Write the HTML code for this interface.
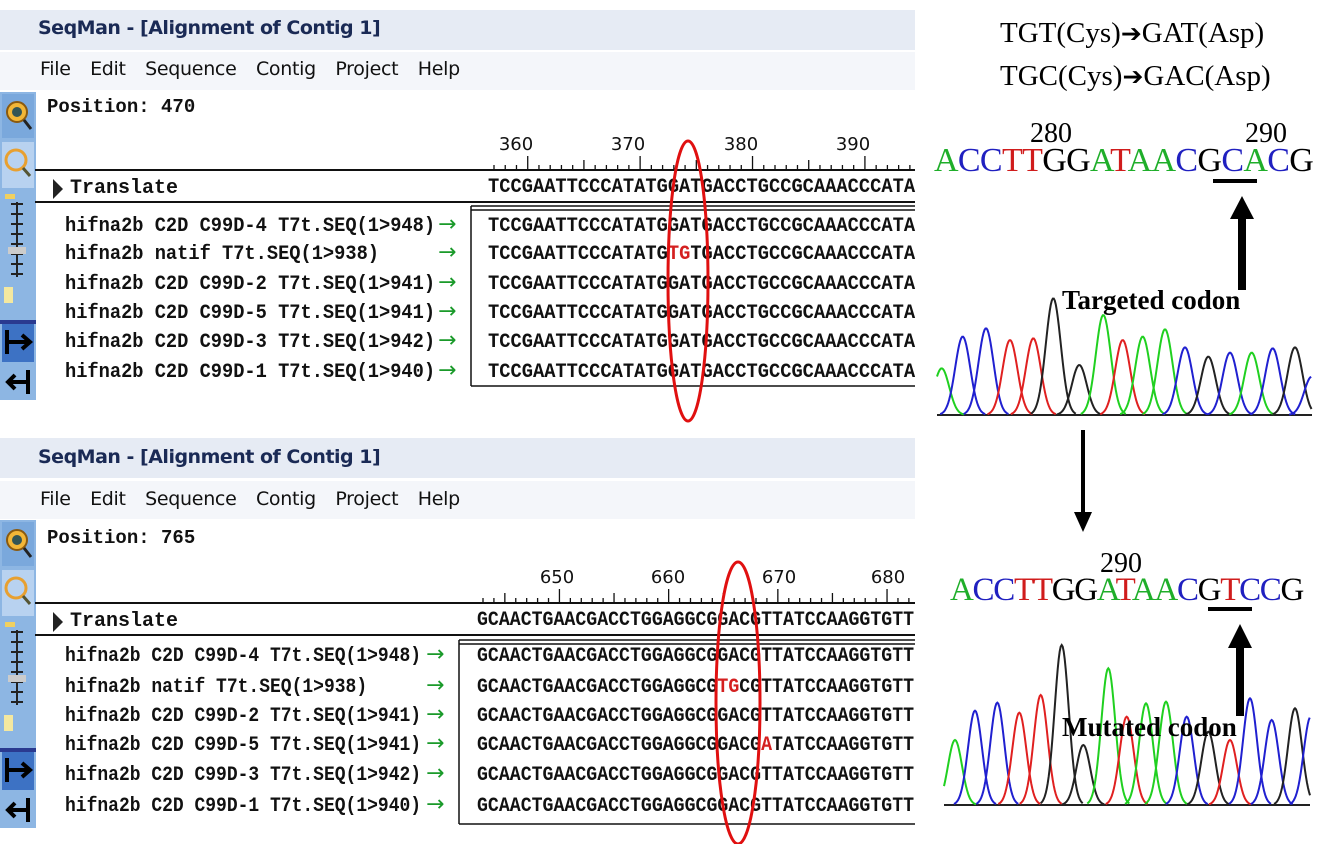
<!DOCTYPE html>
<html><head><meta charset="utf-8">
<style>
body{margin:0;width:1332px;height:844px;background:#fff;position:relative;overflow:hidden;font-family:"Liberation Sans",sans-serif}
.a{position:absolute;white-space:pre}
.title{font-family:"DejaVu Sans",sans-serif;font-weight:bold;font-size:19px;color:#1a2a55;letter-spacing:-0.5px}
.menu{font-family:"DejaVu Sans",sans-serif;font-size:19px;color:#111;word-spacing:4px;letter-spacing:-0.3px}
.mono{font-family:"Liberation Mono",monospace;font-weight:bold;color:#111}
.seq{font-family:"Liberation Mono",monospace;font-weight:bold;font-size:20px;color:#111;transform-origin:0 0}
.r{color:#d42020}
.tm{font-family:"Liberation Serif",serif;color:#000}
</style></head><body>
<svg id="s" class="a" style="left:0;top:0" width="1332" height="844"></svg>

<div class="a" style="left:0;top:10px;width:915px;height:40px;background:#e6ebf4"></div>
<div class="a" style="left:0;top:52px;width:915px;height:38px;background:#f4f6fa"></div>
<div class="a title" style="left:38px;top:17px">SeqMan - [Alignment of Contig 1]</div>
<div class="a menu" style="left:40px;top:58px">File  Edit  Sequence  Contig  Project  Help</div>
<div class="a mono" style="left:47px;top:96px;font-size:19px">Position: 470</div>
<div class="a mono" style="left:70px;top:177px;font-size:20px">Translate</div>

<div class="a" style="left:0;top:438px;width:915px;height:40px;background:#e6ebf4"></div>
<div class="a" style="left:0;top:481px;width:915px;height:38px;background:#f4f6fa"></div>
<div class="a title" style="left:38px;top:446px">SeqMan - [Alignment of Contig 1]</div>
<div class="a menu" style="left:40px;top:488px">File  Edit  Sequence  Contig  Project  Help</div>
<div class="a mono" style="left:47px;top:527px;font-size:19px">Position: 765</div>
<div class="a mono" style="left:70px;top:610px;font-size:20px">Translate</div>

<div id="txt"></div>

<div class="a tm" style="left:1000px;top:17px;font-size:29px">TGT(Cys)<span style="font-family:'DejaVu Sans';font-weight:bold;font-size:25px">➔</span>GAT(Asp)</div>
<div class="a tm" style="left:1000px;top:60px;font-size:29px">TGC(Cys)<span style="font-family:'DejaVu Sans';font-weight:bold;font-size:25px">➔</span>GAC(Asp)</div>
<div class="a tm" style="left:1030px;top:118px;font-size:28px">280</div>
<div class="a tm" style="left:1245px;top:118px;font-size:28px">290</div>
<div class="a tm" style="left:934px;top:142px;font-size:34px;letter-spacing:-0.65px"><span style="color:#1fae2a">A</span><span style="color:#2020c0">CC</span><span style="color:#d01c1c">TT</span>GG<span style="color:#1fae2a">A</span><span style="color:#d01c1c">T</span><span style="color:#1fae2a">AA</span><span style="color:#2020c0">C</span>G<span style="color:#2020c0">C</span><span style="color:#1fae2a">A</span><span style="color:#2020c0">C</span>G</div>
<div class="a tm" style="left:1062px;top:285px;font-size:27px;font-weight:bold">Targeted codon</div>
<div class="a tm" style="left:1100px;top:548px;font-size:28px">290</div>
<div class="a tm" style="left:950px;top:572px;font-size:33px;letter-spacing:-1.3px"><span style="color:#1fae2a">A</span><span style="color:#2020c0">CC</span><span style="color:#d01c1c">TT</span>GG<span style="color:#1fae2a">A</span><span style="color:#d01c1c">T</span><span style="color:#1fae2a">AA</span><span style="color:#2020c0">C</span>G<span style="color:#d01c1c">T</span><span style="color:#2020c0">CC</span>G</div>
<div class="a tm" style="left:1062px;top:712px;font-size:27px;font-weight:bold">Mutated codon</div>

<script>
const S=document.getElementById('s');let h='';
function R(x,y,w,hh,c){h+=`<rect x="${x}" y="${y}" width="${w}" height="${hh}" fill="${c}"/>`}
function L(x1,y1,x2,y2,c,w){h+=`<line x1="${x1}" y1="${y1}" x2="${x2}" y2="${y2}" stroke="${c}" stroke-width="${w}"/>`}
function T(x,y,t,fs,extra){h+=`<text x="${x}" y="${y}" font-family="DejaVu Sans,sans-serif" font-size="${fs}" fill="#111" ${extra||''}>${t}</text>`}
function side(y0){
 R(0,y0,36,308,'#8db6e3');
 R(2,y0+2,32,44,'#7aa8dc');R(2,y0+50,32,46,'#b8d2f0');
 h+=`<circle cx="17" cy="${y0+20}" r="10" fill="#f2b637" stroke="#8a5a10" stroke-width="2"/><circle cx="17" cy="${y0+20}" r="5" fill="#355"/>`;
 L(24,y0+28,31,y0+37,'#222',3);
 h+=`<circle cx="16" cy="${y0+68}" r="10" fill="none" stroke="#e8a030" stroke-width="3"/>`;L(23,y0+76,30,y0+84,'#553',3);
 R(2,y0+100,32,130,'#8db6e3');R(5,y0+102,10,5,'#f0d060');
 L(17,y0+110,17,y0+185,'#222',2);for(let k=0;k<8;k++)L(11,y0+112+k*10,23,y0+112+k*10,'#222',2);
 R(8,y0+155,18,7,'#ccc');R(4,y0+195,9,16,'#f4e8a0');
 R(0,y0+228,36,4,'#2a3a90');R(2,y0+232,32,38,'#3d72c4');
 L(7,y0+238,7,y0+262,'#000',4);L(7,y0+250,28,y0+250,'#000',4);h+=`<path d="M22 ${y0+243}L30 ${y0+250}L22 ${y0+257}" fill="none" stroke="#000" stroke-width="4"/>`;
 R(2,y0+274,32,32,'#8db6e3');
 L(28,y0+278,28,y0+302,'#000',4);L(8,y0+290,28,y0+290,'#000',4);h+=`<path d="M15 ${y0+283}L8 ${y0+290}L15 ${y0+297}" fill="none" stroke="#000" stroke-width="4"/>`;
}
side(92);side(520);
function ico(y){R(6,y,18,4,'#333');L(9,y+4,9,y+16,'#c03030',2);L(20,y+4,20,y+16,'#c03030',2);L(4,y+16,26,y+16,'#2040d0',3);}
ico(18);ico(58);ico(447);ico(487);
function ruler(y,x0,step,n,first,labels){
 L(35,y,915,y,'#111',2);
 for(let i=0;i<n;i++){const x=x0+i*step;const big=(first+i)%10==0,mid=(first+i)%5==0;L(x,y,x,y-(big?14:mid?10:5),'#111',1.3);}
 labels.forEach(l=>T(l[1],y-20,l[0],18,'text-anchor="middle"'));
}
ruler(170,494,11.24,38,357,[[360,516],[370,628],[380,741],[390,853]]);
ruler(603,483,10.92,40,643,[[650,557],[660,668],[670,779],[680,888]]);
L(35,202,915,202,'#111',2);L(35,635,915,635,'#111',2);
h+=`<path d="M53 179L63 189L53 199Z" fill="#222"/><path d="M53 612L63 622L53 632Z" fill="#222"/>`;
function box(x,y1,y2){L(x,y1,915,y1,'#111',1.5);L(x,y1+4,915,y1+4,'#111',1.5);L(x,y1,x,y2,'#111',1.5);L(x,y2,915,y2,'#111',1.5);}
box(471,206,386);box(459,640,824);
S.innerHTML=h;
let t='';
const names=['hifna2b C2D C99D-4 T7t.SEQ(1>948)','hifna2b natif T7t.SEQ(1>938)','hifna2b C2D C99D-2 T7t.SEQ(1>941)','hifna2b C2D C99D-5 T7t.SEQ(1>941)','hifna2b C2D C99D-3 T7t.SEQ(1>942)','hifna2b C2D C99D-1 T7t.SEQ(1>940)'];
function seqdiv(x,y,s,w,red){let o='';for(let i=0;i<s.length;i++){const c=s[i];o+=red.includes(i)?`<span class="r">${c}</span>`:c;}
 t+=`<div class="a seq" style="left:${x}px;top:${y}px;transform:scaleX(${w/(s.length*12)})">${o}</div>`;}
const topY=[215,243,273,302,331,361],botY=[645,676,705,734,764,795];
const s1='TCCGAATTCCCATATGGATGACCTGCCGCAAACCCATA',s1n='TCCGAATTCCCATATGTGTGACCTGCCGCAAACCCATA';
const s2='GCAACTGAACGACCTGGAGGCGGACGTTATCCAAGGTGTT',s2n='GCAACTGAACGACCTGGAGGCGTGCGTTATCCAAGGTGTT',s25='GCAACTGAACGACCTGGAGGCGGACGATATCCAAGGTGTT';
seqdiv(488,176,s1,427,[]);seqdiv(477,609,s2,437,[]);
for(let i=0;i<6;i++){
 const nm=names[i];
 t+=`<div class="a seq" style="left:65px;top:${topY[i]}px;transform:scaleX(${370/(33*12)})">${nm}</div>`;
 t+=`<div class="a seq" style="left:65px;top:${botY[i]}px;transform:scaleX(${356/(33*12)})">${nm}</div>`;
 t+=`<div class="a" style="left:438px;top:${topY[i]-3}px;color:#1a9a2a;font-size:22px;font-family:'DejaVu Sans'">→</div>`;
 t+=`<div class="a" style="left:426px;top:${botY[i]-3}px;color:#1a9a2a;font-size:22px;font-family:'DejaVu Sans'">→</div>`;
 seqdiv(488,topY[i],i==1?s1n:s1,427,i==1?[16,17]:[]);
 seqdiv(477,botY[i],i==1?s2n:(i==3?s25:s2),437,i==1?[22,23]:(i==3?[26]:[]));
}
document.getElementById('txt').innerHTML=t;
let g='<svg class="a" style="left:0;top:0" width="1332" height="844">';
g+='<ellipse cx="688" cy="281" rx="20" ry="140" fill="none" stroke="#e01010" stroke-width="3"/>';
g+='<ellipse cx="738" cy="703" rx="22" ry="141" fill="none" stroke="#e01010" stroke-width="3"/>';
g+='<line x1="1213" y1="181" x2="1257" y2="181" stroke="#000" stroke-width="4"/>';
g+='<line x1="1208" y1="609" x2="1252" y2="609" stroke="#000" stroke-width="4"/>';
g+='<rect x="1238" y="218" width="8" height="72" fill="#000"/><path d="M1230 219L1242 196L1254 219Z" fill="#000"/>';
g+='<rect x="1236" y="646" width="8" height="70" fill="#000"/><path d="M1228 648L1240 624L1252 648Z" fill="#000"/>';
g+='<rect x="1081" y="430" width="4" height="85" fill="#000"/><path d="M1074 512L1083 532L1092 512Z" fill="#000"/>';
const C={g:'#20d020',b:'#2020d0',r:'#e02020',k:'#222'};
function chrom(ox,oy,base,pk,sig,x0,x1){
 g+=`<line x1="${x0}" y1="${base}" x2="${x1}" y2="${base}" stroke="#222" stroke-width="2"/>`;
 pk.forEach(p=>{const cx=ox+p[0]/3,py=oy+p[1]/3;let d='';
  for(let x=Math.max(x0,cx-3*sig);x<=Math.min(x1,cx+3*sig);x+=1){const y=base-(base-py)*Math.exp(-((x-cx)**2)/(2*sig*sig));d+=(d?'L':'M')+x.toFixed(1)+' '+y.toFixed(1);}
  g+=`<path d="${d}" fill="none" stroke="${C[p[2]]}" stroke-width="2"/>`;});
}
chrom(920,110,415,[[65,775,'g'],[128,680,'b'],[198,655,'b'],[270,690,'r'],[340,685,'r'],[400,565,'k'],[478,765,'k'],[550,615,'g'],[608,690,'r'],[668,680,'g'],[735,658,'g'],[795,712,'b'],[865,740,'k'],[930,728,'b'],[995,728,'g'],[1058,715,'b'],[1125,712,'k'],[1175,800,'b']],7.5,937,1312);
chrom(920,540,805,[[105,600,'g'],[165,512,'b'],[232,488,'b'],[298,518,'r'],[362,465,'r'],[425,315,'k'],[490,615,'k'],[565,385,'g'],[620,530,'r'],[678,490,'g'],[738,485,'g'],[800,530,'b'],[865,575,'k'],[930,600,'r'],[990,475,'b'],[1055,540,'b'],[1125,505,'k'],[1172,530,'b']],7,944,1310);
g+='</svg>';
document.getElementById('txt').insertAdjacentHTML('beforeend',g);
</script>
</body></html>
